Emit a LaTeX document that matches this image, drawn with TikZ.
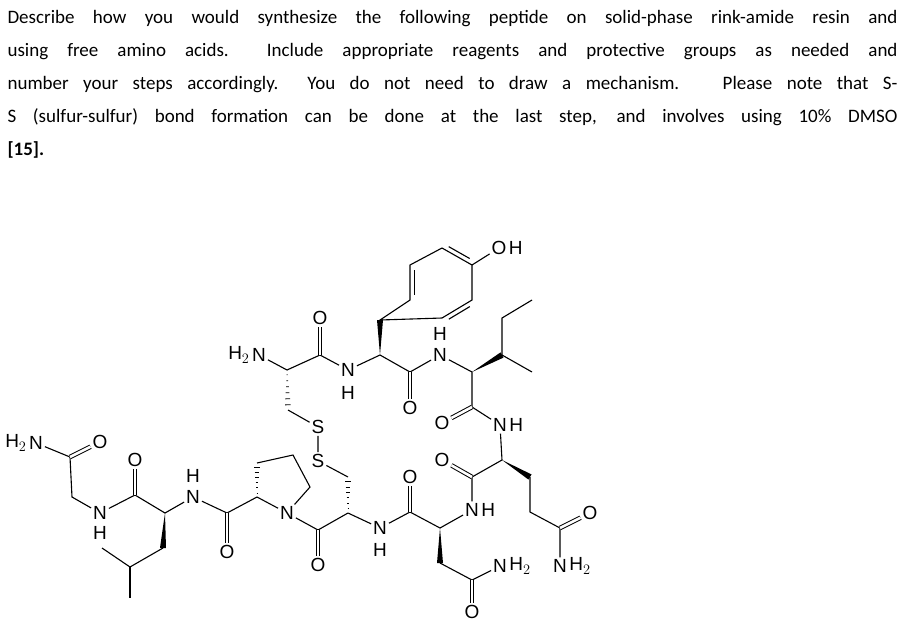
\documentclass[tikz,border=0pt]{standalone}
\usepackage{fontspec}
\setmainfont{Carlito}
\newfontfamily\chemf{Liberation Sans}
\usetikzlibrary{calc}
\newcommand\wedgeb[2]{\fill ($(#1)$) -- ($(#2)!3pt!90:(#1)$) -- ($(#2)!3pt!-90:(#1)$) -- cycle;}
\newcommand\hashb[2]{\foreach \t in {0.12,0.27,...,0.95}{\pgfmathsetmacro\w{3.2*\t}
 \path ($(#1)!\t!(#2)$) coordinate (hp);
 \draw[line width=0.8pt] ($(hp)!\w pt!90:(#2)$) -- ($(hp)!\w pt!-90:(#2)$);}}
\begin{document}
\begin{tikzpicture}[x=1pt,y=-1pt,line width=1.1pt,
 atom/.style={font=\chemf\fontsize{19}{19}\selectfont,inner sep=1.5pt},
 hsub/.style={font=\chemf\fontsize{19}{19}\selectfont,inner sep=0pt,anchor=west},
 db/.style={double,double distance=2.6pt,line width=1pt},
 txt/.style={anchor=base west,inner sep=0pt,font=\fontsize{19}{23}\selectfont}]
\useasboundingbox (0,0) rectangle (902,630);
\node[txt] at (7,23) {\makebox[890pt][s]{Describe how you would synthesize the following peptide on solid-phase rink-amide resin and}};
\node[txt] at (7,56) {\makebox[890pt][s]{using free amino acids.\ \ Include appropriate reagents and protective groups as needed and}};
\node[txt] at (7,89) {\makebox[890pt][s]{number your steps accordingly.\ \ You do not need to draw a mechanism.\ \ \ Please note that S-}};
\node[txt] at (7,122) {\makebox[890pt][s]{S (sulfur-sulfur) bond formation can be done at the last step, and involves using 10\% DMSO}};
\node[txt] at (7,155) {\textbf{[15].}};
% atoms
\node[atom] (nh2a) at (36,443) {N}; \node[atom,anchor=east,inner sep=0pt] at (nh2a.west) {H$_2$};
\coordinate (c1) at (70,457); \node[atom] (o1) at (100,442) {O};
\coordinate (c2) at (72,497); \node[atom] (n1) at (100,513) {N}; \node[atom] at (100,533) {H};
\coordinate (c3) at (135,495); \node[atom] (o3) at (135,460) {O};
\coordinate (ca4) at (165,513); \node[atom] (n4) at (193,497) {N}; \node[atom] at (193,476) {H};
\coordinate (cb4) at (163,548); \coordinate (cg4) at (130,567); \coordinate (cd4a) at (102,548); \coordinate (cd4b) at (130,598);
\coordinate (c5) at (227,513); \node[atom] (o5) at (227,552) {O};
\coordinate (pa) at (257,497); \coordinate (pb) at (257,463); \coordinate (pg) at (293,455); \coordinate (pd) at (310,487);
\node[atom] (pn) at (287,513) {N};
\coordinate (c6) at (318,530); \node[atom] (o6) at (318,565) {O};
\coordinate (y6a) at (348,513); \coordinate (y6b) at (348,477);
\node[atom] (s2) at (318,461) {S}; \node[atom] (s1) at (318,427) {S};
\coordinate (cb1) at (288,410); \coordinate (ca1) at (287,370);
\node[atom] (nh2b) at (259,355) {N}; \node[atom,anchor=east,inner sep=0pt] at (nh2b.west) {H$_2$};
\coordinate (cc1) at (320,355); \node[atom] (oc1) at (320,318) {O};
\node[atom] (n2) at (348,370) {N}; \node[atom] at (348,393) {H};
\coordinate (ta) at (380,355); \coordinate (tb) at (380,320);
\coordinate (r1) at (410,300); \coordinate (r2) at (410,265); \coordinate (r3) at (442,248);
\coordinate (r4) at (472,265); \coordinate (r5) at (472,300); \coordinate (r6) at (442,318);
\node[atom] (oh) at (499,248) {O}; \node[hsub] at (oh.east) {H};
\coordinate (tc) at (410,372); \node[atom] (to) at (410,408) {O};
\node[atom] (n3) at (440,355) {N}; \node[atom] at (440,334) {H};
\coordinate (ia) at (472,372); \coordinate (ib) at (502,355); \coordinate (ig1) at (532,372);
\coordinate (ig2) at (502,318); \coordinate (id) at (532,300);
\coordinate (ic) at (472,407); \node[atom] (io) at (442,423) {O};
\node[atom] (n5) at (500,425) {N}; \node[hsub] at (n5.east) {H};
\coordinate (qa) at (502,460); \coordinate (qb) at (530,477); \coordinate (qg) at (530,512);
\coordinate (qc) at (560,528); \node[atom] (qo) at (590,513) {O};
\node[atom] (qn) at (560,566) {N}; \node[hsub] at (qn.east) {H$_2$};
\coordinate (qcc) at (472,477); \node[atom] (qco) at (442,460) {O};
\node[atom] (qnh) at (472,510) {N}; \node[hsub] at (qnh.east) {H};
\coordinate (aa) at (440,528); \coordinate (ab) at (440,563); \coordinate (ac) at (472,580);
\node[atom] (ao) at (472,612) {O}; \node[atom] (an) at (500,566) {N}; \node[hsub] at (an.east) {H$_2$};
\coordinate (ac2) at (410,512); \node[atom] (ao2) at (410,477) {O};
\node[atom] (n6) at (380,528) {N}; \node[atom] at (380,550) {H};
% bonds
\draw (nh2a)--(c1)--(c2)--(n1)--(c3)--(ca4)--(n4)--(c5)--(pa)--(pn)--(c6)--(y6a);
\draw[db] (c1)--(o1); \draw[db] (c3)--(o3); \draw[db] (c5)--(o5); \draw[db] (c6)--(o6);
\wedgeb{ca4}{cb4}
\draw (cb4)--(cg4)--(cd4a); \draw (cg4)--(cd4b);
\hashb{pa}{pb}
\draw (pb)--(pg)--(pd)--(pn);
\hashb{y6a}{y6b}
\draw (y6b)--(s2)--(s1)--(cb1);
\hashb{ca1}{cb1}
\draw (nh2b)--(ca1)--(cc1)--(n2)--(ta)--(tc)--(n3)--(ia)--(ic)--(n5)--(qa)--(qcc)--(qnh)--(aa)--(ac2)--(n6)--(y6a);
\draw[db] (cc1)--(oc1); \draw[db] (tc)--(to); \draw[db] (ic)--(io); \draw[db] (qcc)--(qco); \draw[db] (ac2)--(ao2);
\wedgeb{ta}{tb}
\draw (tb)--(r1)--(r2)--(r3)--(r4)--(r5)--(r6)--cycle;
\draw ($(r1)!0.15!(r2)+(4.5,0)$)--($(r1)!0.85!(r2)+(4.5,0)$);
\draw ($(r3)!0.15!(r4)!4.5pt!90:(r4)$)--($(r3)!0.85!(r4)!4.5pt!-90:(r3)$);
\draw ($(r5)!0.15!(r6)!4.5pt!90:(r6)$)--($(r5)!0.85!(r6)!4.5pt!-90:(r5)$);
\draw (r4)--(oh);
\wedgeb{ia}{ib}
\draw (ib)--(ig1); \draw (ib)--(ig2)--(id);
\wedgeb{qa}{qb}
\draw (qb)--(qg)--(qc)--(qn); \draw[db] (qc)--(qo);
\wedgeb{aa}{ab}
\draw (ab)--(ac)--(an); \draw[db] (ac)--(ao);
\end{tikzpicture}
\end{document}
